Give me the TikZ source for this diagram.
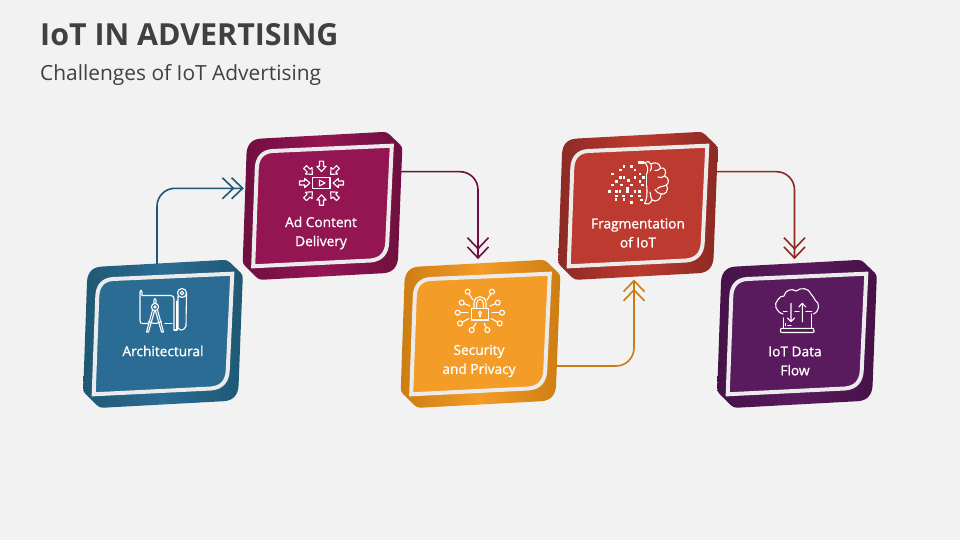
\documentclass[tikz,border=0pt]{standalone}
\usepackage{fontspec}
\setmainfont{Open Sans}
\newfontfamily\labelfont[FakeBold=1.1]{Open Sans}
\usetikzlibrary{arrows.meta}
\definecolor{bg}{HTML}{F2F2F2}
\definecolor{ink}{HTML}{404040}
\definecolor{blueM}{HTML}{2A6C94}\definecolor{blueD}{HTML}{1F5873}
\definecolor{wineM}{HTML}{931552}\definecolor{wineD}{HTML}{6F0F40}
\definecolor{amberM}{HTML}{F39C27}\definecolor{amberD}{HTML}{CC7D12}
\definecolor{brickM}{HTML}{BC3A2F}\definecolor{brickD}{HTML}{8C2A24}
\definecolor{plumM}{HTML}{5A1A5E}\definecolor{plumD}{HTML}{451247}
\tikzset{
  cardbox/.style={minimum width=157pt,minimum height=140pt,inner sep=0pt},
  label/.style={text=white,align=center,inner sep=0pt,font=\fontsize{13.7}{19}\labelfont\selectfont},
  icon/.style={draw=white,line width=1.1pt,line cap=round,line join=round},
  link/.style={line width=1.6pt,rounded corners=18pt,
    -{Straight Barb[length=11pt,width=21pt,line width=1.6pt,sep=-3.7pt]Straight Barb[length=11pt,width=21pt,line width=1.6pt]}},
}
\newcommand{\cardshape}[4]{%
  \begin{scope}[shift={(#1,#2)}]
    \shade[left color=#3,right color=#3,middle color=#4]
      (87,282) .. controls (87.4,273) and (92,267.3) .. (101,266.6) -- (223,260)
      .. controls (226,259.8) and (228,260.5) .. (230,262.5) -- (240.5,272.5)
      .. controls (242.3,274.5) and (242.8,276) .. (242.7,278.3) -- (238.6,385)
      .. controls (238.2,394) and (234,400.5) .. (224,401.2) -- (103.3,407.7)
      .. controls (100.5,407.8) and (99,407) .. (97,405.3) -- (86,394.5)
      .. controls (84,392.5) and (83.2,391) .. (83.3,388.3) -- cycle;
    \draw[white!92!black,line width=4pt,fill=#4,line join=miter]
      (93.7,394.3) -- (97.3,296) .. controls (97.8,286) and (103,279.6) .. (113,279)
      -- (232.3,273.7) -- (227.7,371) .. controls (227,381) and (222,387.6) .. (211,388.5) -- cycle;
  \end{scope}}
\newcommand{\blockarrow}[3]{%
  \draw[icon,shift={(#1,#2)},rotate=#3] (-5.2,-2) -- (0,-2) -- (0,-4.6) -- (5.2,0) -- (0,4.6) -- (0,2) -- (-5.2,2) -- cycle;}
\newcommand{\chip}[4]{% x y  endx endy
  \draw[icon] (#3,#4) -- (#1,#2);
  \draw[icon,fill=amberM] (#1,#2) circle[radius=2.5pt];}
\begin{document}
\begin{tikzpicture}[x=1pt,y=-1pt]
\useasboundingbox (0,0) rectangle (960,540);
\fill[bg] (0,0) rectangle (960,540);
\node[anchor=base west,inner sep=0pt,text=ink,font=\fontsize{30.4}{34}\selectfont\bfseries] (title) at (40,45.5) {IoT IN ADVERTISING};
\node[anchor=base west,inner sep=0pt,text=ink,font=\fontsize{20.9}{24}\selectfont] (subtitle) at (40,80.5) {Challenges of IoT Advertising};

% cards
\cardshape{0}{0}{blueD}{blueM}
\cardshape{159.5}{-128}{wineD}{wineM}
\cardshape{317.5}{0}{amberD}{amberM}
\cardshape{475}{-128}{brickD}{brickM}
\cardshape{634}{0}{plumD}{plumM}
\node[cardbox] (a) at (163,334) {};
\node[cardbox] (b) at (322.5,206) {};
\node[cardbox] (c) at (480.5,334) {};
\node[cardbox] (d) at (638,206) {};
\node[cardbox] (e) at (797,334) {};

% labels
\node[label] (la) at (163,351) {Architectural};
\node[label] (lb) at (321,233) {Ad Content\\Delivery};
\node[label] (lc) at (479,361) {Security\\and Privacy};
\node[label] (ld) at (638,233) {Fragmentation\\of IoT};
\node[label] (le) at (795,361) {IoT Data\\Flow};

% connectors
\draw[link,blueD] ([xshift=-6pt]a.north) |- ([yshift=17.7pt]b.west);
\draw[link,wineD] ([xshift=-1pt,yshift=34.3pt]b.east) -| ([xshift=-2.5pt,yshift=4.7pt]c.north);
\draw[link,amberD] ([xshift=-3pt,yshift=-32pt]c.east) -| ([xshift=-4pt,yshift=-3.3pt]d.south);
\draw[link,brickD] ([xshift=-2pt,yshift=34.3pt]d.east) -| ([xshift=-2.5pt,yshift=4.7pt]e.north);

% icon: architectural plans
\draw[icon] (140,292) .. controls (140,289.5) and (142,289.5) .. (142,292) -- (142,295.5) -- (171,295.5)
  .. controls (173,295.5) and (174,297) .. (174,299) -- (174,330);
\draw[icon] (140,292) -- (140,321) .. controls (140,323) and (141,323.5) .. (143,323.5) -- (148,323.5);
\draw[icon] (165,323.5) -- (172,323.5);
\draw[icon] (177,301) -- (177,330) -- (174,330);
\draw[icon] (178,296) -- (178,328) .. controls (180,331) and (184,331) .. (186,326) -- (186.5,293);
\draw[icon] (182,293) circle[radius=4.5pt];
\draw[icon] (182,293) circle[radius=1.8pt];
\draw[icon] (155,307) circle[radius=3.6pt];
\draw[icon] (155,307) circle[radius=1.2pt];
\draw[icon] (155,303.4) -- (153.8,303) -- (154.2,299) -- (155.8,299) -- (156.2,303) -- (155,303.4);
\draw[icon] (152.5,310) -- (146.5,332) -- (148.5,332) -- (154.5,311);
\draw[icon] (157.5,310) -- (163.5,332) -- (161.5,332) -- (155.5,311);
\draw[icon] (148.5,321.5) .. controls (152,324) and (158,324) .. (161.5,321.5);

% icon: ad content
\draw[icon] (312.7,177.7) rectangle (330,188.3);
\draw[icon] (319.3,180) -- (325,183) -- (319.3,186) -- cycle;
\blockarrow{304.7}{183}{0}
\blockarrow{338.3}{183}{180}
\blockarrow{321.5}{166.4}{-90}
\blockarrow{321.5}{200}{90}
\blockarrow{308.7}{170.7}{-45}
\blockarrow{334.3}{170.7}{-135}
\blockarrow{308.7}{195.5}{45}
\blockarrow{334.3}{195.5}{135}

% icon: lock and circuit
\draw[icon] (471.7,308.3) rectangle (488.3,320);
\draw[icon] (474,308.3) -- (474,303) .. controls (474,294.5) and (486,294.5) .. (486,303) -- (486,308.3);
\draw[icon] (476.6,308.3) -- (476.6,303.5) .. controls (476.6,298) and (483.4,298) .. (483.4,303.5) -- (483.4,308.3);
\draw[icon] (480,312.8) circle[radius=1.6pt];
\draw[icon] (480,314.4) -- (480,316.8);
\chip{467.7}{291.7}{473}{300}
\chip{492}{291.7}{487}{300}
\chip{461.7}{302.7}{470}{306}
\chip{497.7}{302.7}{490}{306}
\chip{457.7}{312.7}{468}{312.7}
\chip{502}{312.7}{492}{312.7}
\chip{460}{323.3}{469}{318.5}
\chip{499.7}{323.3}{491}{318.5}
\chip{471.7}{330}{476}{323}
\chip{487.3}{330}{484}{323}

% icon: brain with dissolving dots
\draw[icon] (646.7,174) -- (646.7,186);
\draw[icon] (644.5,162.5) .. controls (647,161) and (650,161.2) .. (651,164) .. controls (655,161.5) and (660,163) .. (660.5,168)
  .. controls (665,167) and (667,172) .. (664.5,176) .. controls (669,177.5) and (669.5,183) .. (666.5,185)
  .. controls (669.5,190) and (665,195.5) .. (661,194) .. controls (661.5,199) and (656,203) .. (652,200)
  .. controls (650,204.5) and (647,204.8) .. (644.5,203.5);
\draw[icon] (644.5,162.5) .. controls (648,165) and (648.5,170) .. (646.7,174);
\draw[icon] (644.5,203.5) .. controls (647,200) and (647.5,192) .. (646.7,186);
\draw[icon] (651,164) .. controls (652,167) and (651.5,170) .. (650,171);
\draw[icon] (660.5,168) .. controls (659,170) and (657,171) .. (655,170.5);
\draw[icon] (664.5,176) .. controls (662,178) and (660,178) .. (658,177);
\draw[icon] (666.5,185) .. controls (663,187) and (659,186) .. (657,189);
\draw[icon] (661,194) .. controls (658,193) and (656,192) .. (655,189.5);
\draw[icon] (652,200) .. controls (651,197) and (650,195) .. (650,192);
\foreach \zx/\zy in {187/162,212/150,222/140,245/140,268/128,278/128,255/150,270/162,222/172,212/172,255/172,280/172,200/185,235/182,245/195,270/185,188/195,215/195,232/205,278/195,200/215,178/215,210/215,232/215,255/215,268/215,200/228,220/228,245/228,268/228,198/238,222/238,245/248,275/240}
  \fill[white] ({550+\zx/3-1.2},{120+\zy/3-1.2}) rectangle ++(2.4,2.4);

% icon: cloud and laptop
\draw[icon] (783,314) .. controls (776,312) and (773,304) .. (778,299.5) .. controls (779,297) and (782,296) .. (784,296)
  .. controls (785,290) and (792,288) .. (796,291) .. controls (801,287) and (809,288) .. (811,294)
  .. controls (813,296) and (814,298) .. (815,300) .. controls (820,303) and (820,311) .. (813.5,314);
\draw[icon] (783.3,318) -- (783.3,328.3) -- (811.7,328.3) -- (811.7,314);
\draw[icon] (783.3,311.7) -- (787,311.7);
\draw[icon] (795,311.7) -- (799,311.7);
\draw[icon] (806,311.7) -- (811.7,311.7);
\draw[icon] (781,328.3) -- (813.3,328.3) .. controls (814.5,332.5) .. (812,332.5) -- (782.5,332.5) .. controls (780,332.5) .. (781,328.3);
\draw[icon] (791,303.3) -- (791,321.7) (787.5,318) -- (791,321.7) -- (794.5,318);
\draw[icon] (802.3,321.7) -- (802.3,303.3) (798.8,307) -- (802.3,303.3) -- (805.8,307);
\draw[icon] (785.5,323.5) -- (785.5,325.5) (788,325.5) -- (791,325.5);
\end{tikzpicture}
\end{document}
